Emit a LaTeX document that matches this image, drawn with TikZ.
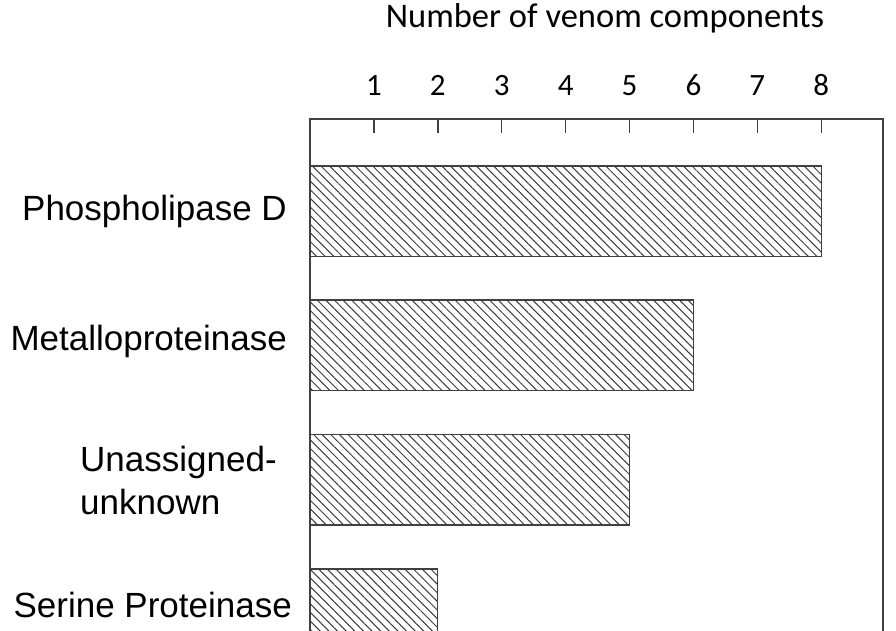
\documentclass[tikz,border=0pt]{standalone}
\usepackage{fontspec}
\setmainfont{Liberation Sans}
\newfontfamily\calibri{Carlito}
\usetikzlibrary{patterns.meta}
\definecolor{axisgray}{HTML}{404040}
\definecolor{hatchgray}{HTML}{3C3C3C}
\tikzset{
  axisline/.style={draw=axisgray,line width=1.4pt},
  barbox/.style={draw=axisgray,line width=1.1pt,
    pattern={Lines[angle=-45,distance=6.1pt,line width=1pt]},pattern color=hatchgray},
  ticklabel/.style={font=\calibri\fontsize{31}{31}\selectfont,anchor=base,inner sep=0pt},
  catlabel/.style={font=\fontsize{35}{43}\selectfont,inner sep=0pt}
}

\begin{document}
\begin{tikzpicture}[x=1pt,y=-1pt]
  \useasboundingbox (0,0) rectangle (896,630);
  % axis frame
  \coordinate (o) at (310,119);
  \coordinate (r) at (883,119);
  \coordinate (ob) at (310,640);
  \coordinate (rb) at (883,640);
  \draw[axisline] (ob) -- (o) -- (r) -- (rb);
  \node[font=\calibri\fontsize{34.5}{34.5}\selectfont,anchor=base,inner sep=0pt] (title) at (605,27) {Number of venom components};
  \foreach \i in {1,...,8} {
    \draw[axisline] (310+63.9*\i,119) -- (310+63.9*\i,133);
    \node[ticklabel] (tick\i) at (310+63.9*\i,95) {\i};
  }
  % bars
  \draw[barbox] (310,166) rectangle (310+63.9*8,256.5);
  \draw[barbox] (310,300) rectangle (310+63.9*6,390.5);
  \draw[barbox] (310,434.5) rectangle (310+63.9*5,525);
  \draw[barbox] (310,569) rectangle (310+63.9*2,660);
  % categories
  \node[catlabel,anchor=base east] (phos) at (287,220) {Phospholipase D};
  \node[catlabel,anchor=base east] (metal) at (287,350) {Metalloproteinase};
  \node[catlabel,anchor=west,align=left] (unk) at (80,480) {Unassigned-\\unknown};
  \node[catlabel,anchor=base east] (serine) at (292,617) {Serine Proteinase};
\end{tikzpicture}
\end{document}
